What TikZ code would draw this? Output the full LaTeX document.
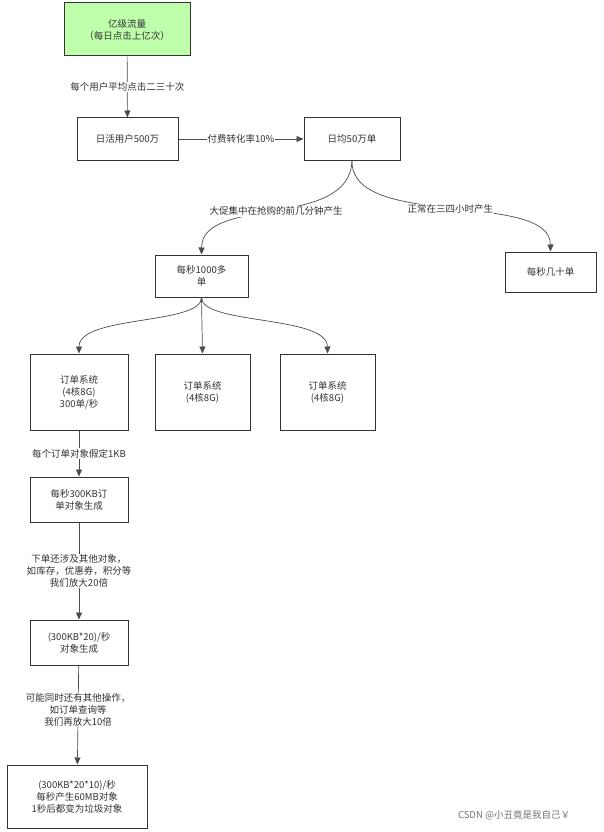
\documentclass[tikz,border=0pt]{standalone}
\usepackage{fontspec}
\setmainfont{Noto Sans CJK SC}
\usetikzlibrary{arrows.meta}
\begin{document}
\begin{tikzpicture}[x=1pt,y=-1pt,
  box/.style={draw=black!80,line width=1pt,fill=white,align=center,font=\fontsize{9.5}{12}\selectfont,inner sep=0pt,text=black!80},
  lbl/.style={fill=white,align=center,font=\fontsize{9.5}{12}\selectfont,inner sep=1pt,text=black!80},
  arr/.style={draw=black!70,line width=0.7pt,-{Triangle[length=7pt,width=6pt]}}]
\useasboundingbox (0,0) rectangle (604,832);
\node[box,fill=green!25!white!90!lime,minimum width=126pt,minimum height=53pt] (top) at (127,29.5) {亿级流量\\（每日点击上亿次）};
\node[box,minimum width=101pt,minimum height=42pt] (dau) at (127.5,139) {日活用户500万};
\node[box,minimum width=96pt,minimum height=42pt] (ord) at (352,139) {日均50万单};
\node[box,minimum width=93pt,minimum height=42pt] (peak) at (201.5,276) {每秒1000多\\单};
\node[box,minimum width=91pt,minimum height=40pt] (norm) at (550.5,272) {每秒几十单};
\node[box,minimum width=98pt,minimum height=76pt] (a) at (79,392) {订单系统\\(4核8G)\\300单/秒};
\node[box,minimum width=95pt,minimum height=76pt] (b) at (202.5,392) {订单系统\\(4核8G)};
\node[box,minimum width=95pt,minimum height=76pt] (c) at (327.5,392) {订单系统\\(4核8G)};
\node[box,minimum width=98pt,minimum height=45pt] (kb) at (79,499.5) {每秒300KB订\\单对象生成};
\node[box,minimum width=98pt,minimum height=45pt] (x20) at (79,642.5) {(300KB*20)/秒\\对象生成};
\node[box,minimum width=140pt,minimum height=63pt] (x10) at (77,796.5) {(300KB*20*10)/秒\\每秒产生60MB对象\\1秒后都变为垃圾对象};
\draw[arr] (top) -- node[lbl]{每个用户平均点击二三十次} (dau);
\draw[arr] (dau) -- node[lbl]{付费转化率10\%} (ord);
\draw[arr] (ord.south) .. controls (350,230) and (202,195) .. node[lbl,pos=0.5]{大促集中在抢购的前几分钟产生} (peak.north);
\draw[arr] (ord.south) .. controls (350,230) and (550,190) .. node[lbl,pos=0.5]{正常在三四小时产生} (norm.north);
\draw[arr] (peak.south) .. controls (202,325) and (79,315) .. (a.north);
\draw[arr] (peak.south) -- (b.north);
\draw[arr] (peak.south) .. controls (202,325) and (327,315) .. (c.north);
\draw[arr] (a) -- node[lbl]{每个订单对象假定1KB} (kb);
\draw[arr] (kb) -- node[lbl,pos=0.5]{下单还涉及其他对象，\\如库存，优惠券，积分等\\我们放大20倍} (x20);
\draw[arr] (x20) -- node[lbl,pos=0.45]{可能同时还有其他操作，\\如订单查询等\\我们再放大10倍} (x10);
\node[font=\fontsize{9.5}{11}\selectfont,text=black!55] (wm) at (514,815) {CSDN @小丑竟是我自己￥};
\end{tikzpicture}
\end{document}
